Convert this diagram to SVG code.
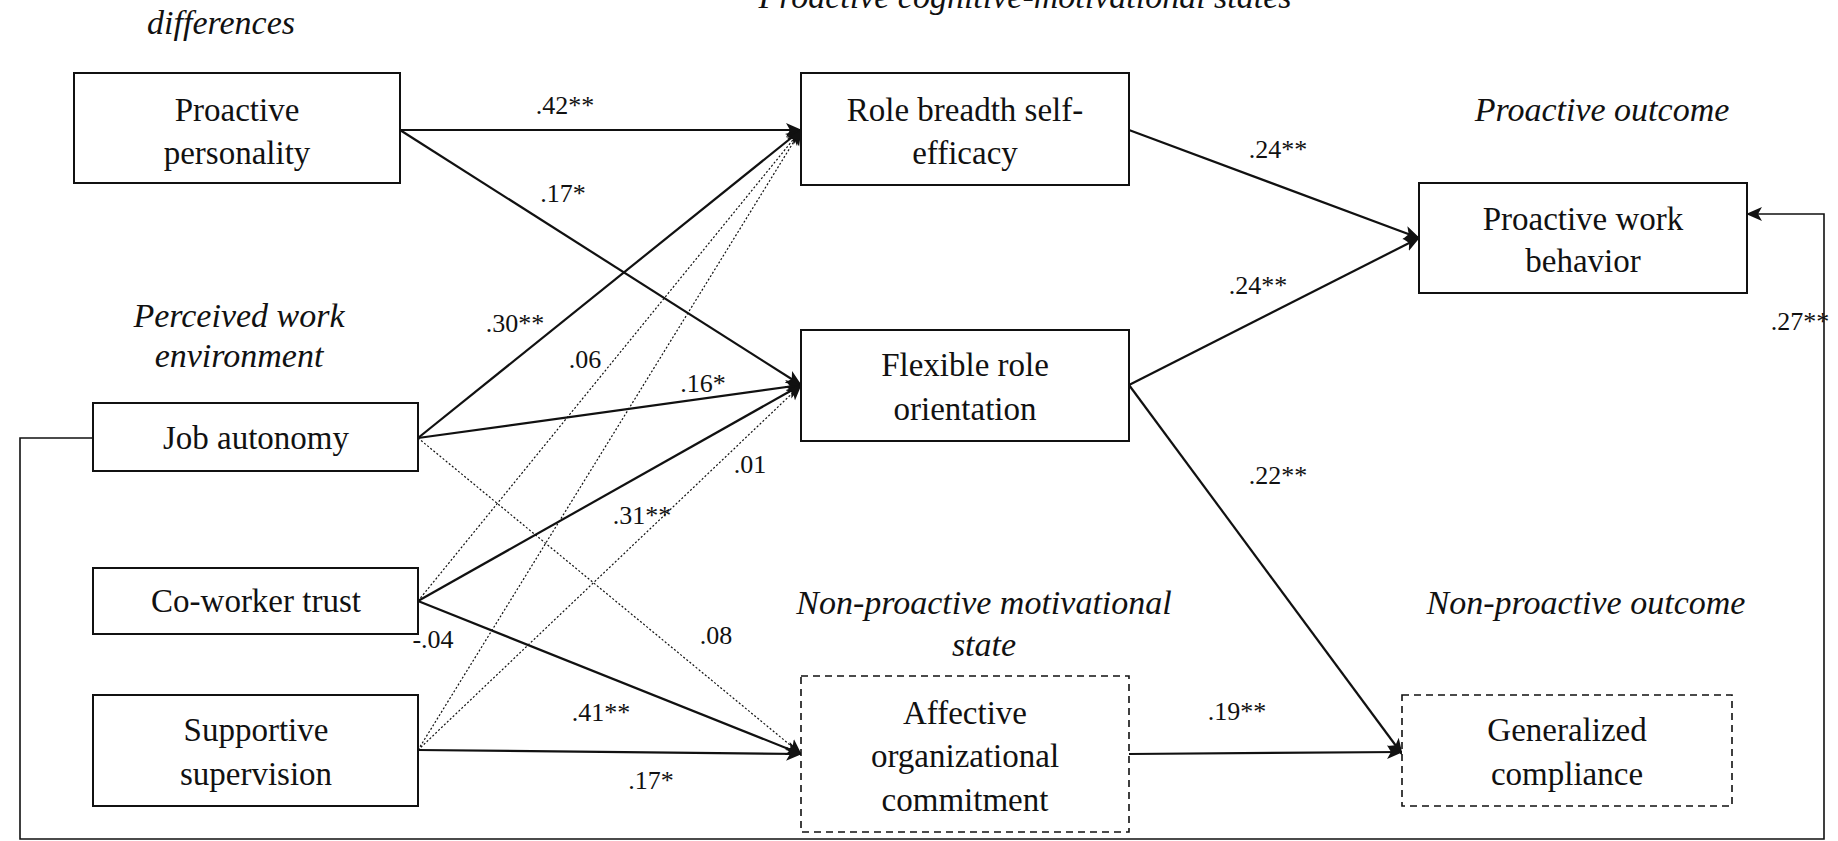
<svg xmlns="http://www.w3.org/2000/svg" width="1838" height="841" viewBox="0 0 1838 841">
<style>
text{font-family:"Liberation Serif","Times New Roman",serif;fill:#111;text-anchor:middle}
.n{font-size:33px}
.h{font-size:34px;font-style:italic}
.l{font-size:26px}
.b{fill:#fff;stroke:#111;stroke-width:2}
.d{fill:#fff;stroke:#111;stroke-width:1.6;stroke-dasharray:7,5}
.s{stroke:#111;stroke-width:2.2;fill:none}
.t{stroke:#111;stroke-width:1.2;stroke-dasharray:2,2;fill:none}
</style>
<defs>
<marker id="a" viewBox="0 0 16 16" refX="15" refY="8" markerWidth="16" markerHeight="16" markerUnits="userSpaceOnUse" orient="auto">
<path d="M0,1 L16,8 L0,15 L4,8 Z" fill="#111"/>
</marker>
</defs>
<rect width="1838" height="841" fill="#fff"/>
<g id="headers">
<text class="h" x="221" y="34">differences</text>
<text class="h" x="1025" y="8">Proactive cognitive-motivational states</text>
<text class="h" x="1602" y="121">Proactive outcome</text>
<text class="h" x="239" y="327">Perceived work</text>
<text class="h" x="239" y="367">environment</text>
<text class="h" x="984" y="614">Non-proactive motivational</text>
<text class="h" x="984" y="656">state</text>
<text class="h" x="1586" y="614">Non-proactive outcome</text>
</g>
<g id="connectors">
<line class="s" x1="400" y1="130" x2="801" y2="130" marker-end="url(#a)"/>
<line class="s" x1="400" y1="130" x2="801" y2="385" marker-end="url(#a)"/>
<line class="s" x1="1129" y1="130" x2="1419" y2="238" marker-end="url(#a)"/>
<line class="s" x1="1129" y1="385" x2="1419" y2="238" marker-end="url(#a)"/>
<line class="s" x1="1129" y1="385" x2="1402" y2="754" marker-end="url(#a)"/>
<line class="s" x1="1129" y1="754" x2="1402" y2="752" marker-end="url(#a)"/>
<line class="s" x1="418" y1="438" x2="801" y2="130" marker-end="url(#a)"/>
<line class="s" x1="418" y1="438" x2="801" y2="385" marker-end="url(#a)"/>
<line class="t" x1="418" y1="438" x2="801" y2="754" marker-end="url(#a)"/>
<line class="t" x1="418" y1="601" x2="801" y2="130" marker-end="url(#a)"/>
<line class="s" x1="418" y1="601" x2="801" y2="385" marker-end="url(#a)"/>
<line class="s" x1="418" y1="601" x2="801" y2="754" marker-end="url(#a)"/>
<line class="t" x1="418" y1="750" x2="801" y2="130" marker-end="url(#a)"/>
<line class="t" x1="418" y1="750" x2="801" y2="385" marker-end="url(#a)"/>
<line class="s" x1="418" y1="750" x2="801" y2="754" marker-end="url(#a)"/>
<polyline class="s" style="stroke-width:1.6" points="93,438 20,438 20,839 1824,839 1824,214 1747,214" marker-end="url(#a)"/>
</g>
<g id="labels">
<text class="l" x="565" y="114">.42**</text>
<text class="l" x="563" y="202">.17*</text>
<text class="l" x="1278" y="158">.24**</text>
<text class="l" x="1258" y="294">.24**</text>
<text class="l" x="1278" y="484">.22**</text>
<text class="l" x="1237" y="720">.19**</text>
<text class="l" x="515" y="332">.30**</text>
<text class="l" x="703" y="392">.16*</text>
<text class="l" x="716" y="644">.08</text>
<text class="l" x="585" y="368">.06</text>
<text class="l" x="642" y="524">.31**</text>
<text class="l" x="601" y="721">.41**</text>
<text class="l" x="433" y="648">-.04</text>
<text class="l" x="750" y="473">.01</text>
<text class="l" x="651" y="789">.17*</text>
<text class="l" x="1800" y="330">.27**</text>
</g>
<g id="pp"><rect class="b" x="74" y="73" width="326" height="110"/><text class="n" x="237" y="121">Proactive</text><text class="n" x="237" y="164">personality</text></g>
<g id="rbse"><rect class="b" x="801" y="73" width="328" height="112"/><text class="n" x="965" y="121">Role breadth self-</text><text class="n" x="965" y="164">efficacy</text></g>
<g id="pwb"><rect class="b" x="1419" y="183" width="328" height="110"/><text class="n" x="1583" y="230">Proactive work</text><text class="n" x="1583" y="272">behavior</text></g>
<g id="fro"><rect class="b" x="801" y="330" width="328" height="111"/><text class="n" x="965" y="376">Flexible role</text><text class="n" x="965" y="420">orientation</text></g>
<g id="ja"><rect class="b" x="93" y="403" width="325" height="68"/><text class="n" x="256" y="449">Job autonomy</text></g>
<g id="ct"><rect class="b" x="93" y="568" width="325" height="66"/><text class="n" x="256" y="612">Co-worker trust</text></g>
<g id="ss"><rect class="b" x="93" y="695" width="325" height="111"/><text class="n" x="256" y="741">Supportive</text><text class="n" x="256" y="785">supervision</text></g>
<g id="aoc"><rect class="d" x="801" y="676" width="328" height="156"/><text class="n" x="965" y="724">Affective</text><text class="n" x="965" y="767">organizational</text><text class="n" x="965" y="811">commitment</text></g>
<g id="gc"><rect class="d" x="1402" y="695" width="330" height="111"/><text class="n" x="1567" y="741">Generalized</text><text class="n" x="1567" y="785">compliance</text></g>
</svg>
